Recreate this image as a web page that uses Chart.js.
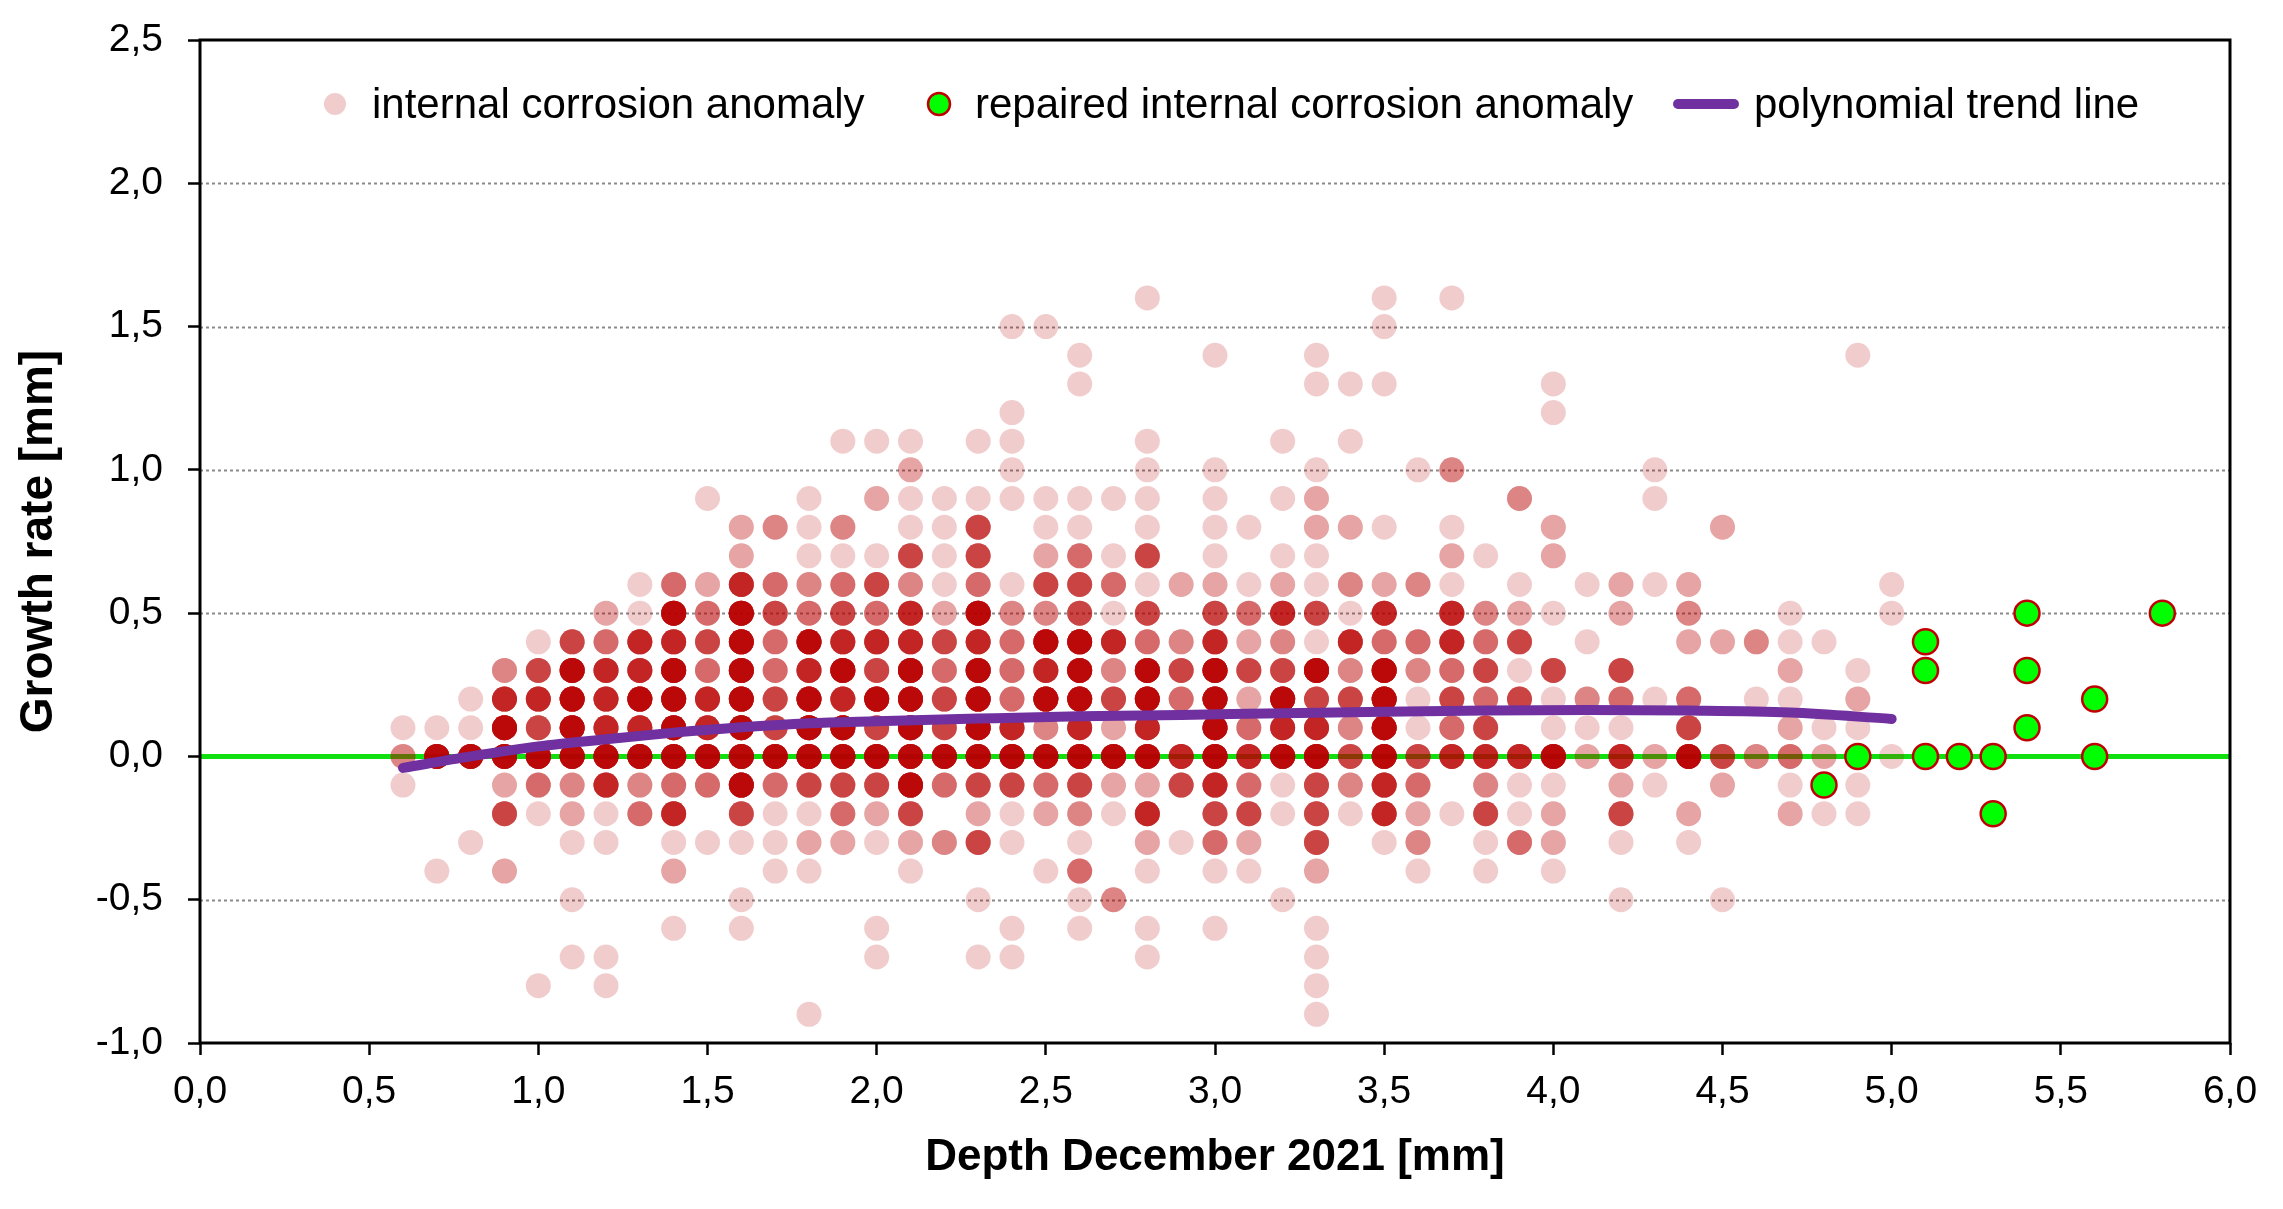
<!DOCTYPE html>
<html>
<head>
<meta charset="utf-8">
<script src="https://cdn.jsdelivr.net/npm/chart.js@4.4.1/dist/chart.umd.min.js"></script>
<style>
  html, body { margin: 0; padding: 0; background: #fff; }
  #wrap { width: 2283px; height: 1209px; position: relative; }
</style>
</head>
<body>
<div id="wrap"><canvas id="chart"></canvas></div>
<script>
// Depth columns (mm) of the internal corrosion anomalies
const depthColumns = [0.6, 0.7, 0.8, 0.9, 1.0, 1.1, 1.2, 1.3, 1.4, 1.5, 1.6, 1.7, 1.8, 1.9, 2.0,
  2.1, 2.2, 2.3, 2.4, 2.5, 2.6, 2.7, 2.8, 2.9, 3.0, 3.1, 3.2, 3.3, 3.4, 3.5, 3.6, 3.7, 3.8, 3.9,
  4.0, 4.1, 4.2, 4.3, 4.4, 4.5, 4.6, 4.7, 4.8, 4.9, 5.0]

// For every depth column: [growth rate, number of anomalies on that spot]
const growthCounts = [
  [[0.1,1],[0,3],[-0.1,1]],
  [[0.1,1],[0,16],[-0.4,1]],
  [[0.2,1],[0.1,1],[0,16],[-0.3,1]],
  [[0.3,3],[0.2,9],[0.1,16],[0,16],[-0.1,2],[-0.2,6],[-0.4,2]],
  [[0.4,1],[0.3,6],[0.2,9],[0.1,6],[0,16],[-0.1,4],[-0.2,1],[-0.8,1]],
  [[0.4,6],[0.3,16],[0.2,16],[0.1,16],[0,16],[-0.1,3],[-0.2,2],[-0.3,1],[-0.5,1],[-0.7,1]],
  [[0.5,2],[0.4,4],[0.3,9],[0.2,9],[0.1,9],[0,16],[-0.1,9],[-0.2,1],[-0.3,1],[-0.7,1],[-0.8,1]],
  [[0.6,1],[0.5,1],[0.4,9],[0.3,9],[0.2,16],[0.1,9],[0,16],[-0.1,3],[-0.2,4]],
  [[0.6,4],[0.5,16],[0.4,9],[0.3,16],[0.2,16],[0.1,16],[0,16],[-0.1,4],[-0.2,9],[-0.3,1],[-0.4,2],[-0.6,1]],
  [[0.9,1],[0.6,2],[0.5,4],[0.4,6],[0.3,4],[0.2,9],[0.1,9],[0,16],[-0.1,4],[-0.3,1]],
  [[0.8,2],[0.7,2],[0.6,9],[0.5,16],[0.4,16],[0.3,16],[0.2,16],[0.1,16],[0,16],[-0.1,16],[-0.2,6],[-0.3,1],[-0.5,1],[-0.6,1]],
  [[0.8,3],[0.6,4],[0.5,6],[0.4,4],[0.3,4],[0.2,6],[0.1,6],[0,16],[-0.1,4],[-0.2,1],[-0.3,1],[-0.4,1]],
  [[0.9,1],[0.8,1],[0.7,1],[0.6,3],[0.5,4],[0.4,16],[0.3,9],[0.2,16],[0.1,16],[0,16],[-0.1,6],[-0.2,1],[-0.3,2],[-0.4,1],[-0.9,1]],
  [[1.1,1],[0.8,3],[0.7,1],[0.6,4],[0.5,6],[0.4,9],[0.3,16],[0.2,9],[0.1,16],[0,16],[-0.1,6],[-0.2,4],[-0.3,2]],
  [[1.1,1],[0.9,2],[0.7,1],[0.6,6],[0.5,4],[0.4,9],[0.3,6],[0.2,16],[0.1,6],[0,16],[-0.1,6],[-0.2,2],[-0.3,1],[-0.6,1],[-0.7,1]],
  [[1.1,1],[1.0,2],[0.9,1],[0.8,1],[0.7,6],[0.6,3],[0.5,9],[0.4,9],[0.3,16],[0.2,16],[0.1,16],[0,16],[-0.1,16],[-0.2,6],[-0.3,2],[-0.4,1]],
  [[0.9,1],[0.8,1],[0.7,1],[0.6,1],[0.5,2],[0.4,6],[0.3,4],[0.2,6],[0.1,6],[0,16],[-0.1,4],[-0.3,3]],
  [[1.1,1],[0.9,1],[0.8,6],[0.7,6],[0.6,4],[0.5,16],[0.4,9],[0.3,16],[0.2,16],[0.1,16],[0,16],[-0.1,6],[-0.2,2],[-0.3,6],[-0.5,1],[-0.7,1]],
  [[1.5,1],[1.2,1],[1.1,1],[1.0,1],[0.9,1],[0.6,1],[0.5,3],[0.4,4],[0.3,4],[0.2,4],[0.1,9],[0,16],[-0.1,6],[-0.2,1],[-0.3,1],[-0.6,1],[-0.7,1]],
  [[1.5,1],[0.9,1],[0.8,1],[0.7,2],[0.6,6],[0.5,3],[0.4,16],[0.3,9],[0.2,16],[0.1,3],[0,16],[-0.1,4],[-0.2,2],[-0.4,1]],
  [[1.4,1],[1.3,1],[0.9,1],[0.8,1],[0.7,4],[0.6,6],[0.5,6],[0.4,16],[0.3,16],[0.2,16],[0.1,9],[0,16],[-0.1,6],[-0.2,3],[-0.3,1],[-0.4,4],[-0.5,1],[-0.6,1]],
  [[0.9,1],[0.7,1],[0.6,4],[0.5,1],[0.4,9],[0.3,3],[0.2,6],[0.1,2],[0,16],[-0.1,2],[-0.2,1],[-0.5,3]],
  [[1.6,1],[1.1,1],[1.0,1],[0.9,1],[0.8,1],[0.7,6],[0.6,1],[0.5,6],[0.4,4],[0.3,16],[0.2,16],[0.1,9],[0,16],[-0.1,2],[-0.2,9],[-0.3,2],[-0.4,1],[-0.6,1],[-0.7,1]],
  [[0.6,2],[0.4,3],[0.3,6],[0.2,4],[0,9],[-0.1,6],[-0.3,1]],
  [[1.4,1],[1.0,1],[0.9,1],[0.8,1],[0.7,1],[0.6,2],[0.5,6],[0.4,9],[0.3,16],[0.2,16],[0.1,16],[0,16],[-0.1,9],[-0.2,6],[-0.3,4],[-0.4,1],[-0.6,1]],
  [[0.8,1],[0.6,1],[0.5,4],[0.4,2],[0.3,6],[0.2,2],[0.1,4],[0,9],[-0.1,4],[-0.2,6],[-0.3,2],[-0.4,1]],
  [[1.1,1],[0.9,1],[0.7,1],[0.6,2],[0.5,9],[0.4,3],[0.3,6],[0.2,16],[0.1,9],[0,16],[-0.1,1],[-0.2,1],[-0.5,1]],
  [[1.4,1],[1.3,1],[1.0,1],[0.9,2],[0.8,2],[0.7,1],[0.6,1],[0.5,6],[0.4,1],[0.3,16],[0.2,6],[0.1,9],[0,16],[-0.1,6],[-0.2,6],[-0.3,6],[-0.4,2],[-0.6,1],[-0.7,1],[-0.8,1],[-0.9,1]],
  [[1.3,1],[1.1,1],[0.8,2],[0.6,3],[0.5,1],[0.4,9],[0.3,3],[0.2,6],[0.1,3],[0,6],[-0.1,3],[-0.2,1]],
  [[1.6,1],[1.5,1],[1.3,1],[0.8,1],[0.6,2],[0.5,9],[0.4,4],[0.3,16],[0.2,16],[0.1,16],[0,16],[-0.1,9],[-0.2,9],[-0.3,1]],
  [[1.0,1],[0.6,3],[0.4,4],[0.3,3],[0.2,1],[0.1,1],[0,6],[-0.1,4],[-0.2,2],[-0.3,3],[-0.4,1]],
  [[1.6,1],[1.0,3],[0.8,1],[0.7,2],[0.6,1],[0.5,9],[0.4,9],[0.3,4],[0.2,6],[0.1,4],[0,9],[-0.2,1]],
  [[0.7,1],[0.5,3],[0.4,4],[0.3,6],[0.2,4],[0.1,6],[0,9],[-0.1,3],[-0.2,6],[-0.3,1],[-0.4,1]],
  [[0.9,3],[0.6,1],[0.5,2],[0.4,6],[0.3,1],[0.2,6],[0,9],[-0.1,1],[-0.2,1],[-0.3,4]],
  [[1.3,1],[1.2,1],[0.8,2],[0.7,2],[0.5,1],[0.3,6],[0.2,1],[0.1,1],[0,16],[-0.1,1],[-0.2,2],[-0.3,2],[-0.4,1]],
  [[0.6,1],[0.4,1],[0.2,3],[0.1,1],[0,2]],
  [[0.6,2],[0.5,2],[0.3,6],[0.2,4],[0.1,1],[0,9],[-0.1,2],[-0.2,6],[-0.3,1],[-0.5,1]],
  [[1.0,1],[0.9,1],[0.6,1],[0.2,1],[0,2],[-0.1,1]],
  [[0.6,2],[0.5,3],[0.4,2],[0.2,4],[0.1,6],[0,16],[-0.2,2],[-0.3,1]],
  [[0.8,2],[0.4,2],[0,6],[-0.1,2],[-0.5,1]],
  [[0.4,3],[0.2,1],[0,3]],
  [[0.5,1],[0.4,1],[0.3,2],[0.2,1],[0.1,2],[0,4],[-0.1,1],[-0.2,2]],
  [[0.4,1],[0.1,1],[0,2],[-0.2,1]],
  [[1.4,1],[0.3,1],[0.2,2],[0.1,1],[-0.1,1],[-0.2,1]],
  [[0.6,1],[0.5,1],[0,1]]
]

// Repaired anomalies
const repairedDepth = [4.8, 4.9, 5.1, 5.1, 5.1, 5.2, 5.3, 5.3, 5.4, 5.4, 5.4, 5.6, 5.6, 5.8]
const repairedGrowth = [-0.1, 0.0, 0.4, 0.3, 0.0, 0.0, 0.0, -0.2, 0.5, 0.3, 0.1, 0.2, 0.0, 0.5]

// Polynomial trend line
const trendDepth = [0.6, 0.8, 1.0, 1.2, 1.4, 1.6, 1.8, 2.0, 2.3, 2.6, 2.9, 3.2, 3.5, 3.8, 4.1, 4.4, 4.7, 5.0]
const trendGrowth = [-0.04, 0.0, 0.035, 0.06, 0.083, 0.102, 0.116, 0.123, 0.132, 0.14, 0.145, 0.151, 0.156, 0.16, 0.162, 0.16, 0.153, 0.131]

// Zero reference line
const zeroLineDepth = [0.0, 6.0]
const zeroLineGrowth = [0.0, 0.0]

const legendLabels = ['internal corrosion anomaly', 'repaired internal corrosion anomaly', 'polynomial trend line']

const FONT = "'Liberation Sans', Arial, Helvetica, sans-serif"
const fmt = v => v.toFixed(1).replace('.', ',')

// each anomaly is its own point, overlapping ones darken the spot
const anomalyPoints = []
depthColumns.forEach((d, i) => {
  growthCounts[i].forEach(([g, n]) => {
    for (let k = 0; k < n; k++) anomalyPoints.push({ x: d, y: g })
  })
})
const repairedPoints = repairedDepth.map((d, i) => ({ x: d, y: repairedGrowth[i] }))
const trendPoints = trendDepth.map((d, i) => ({ x: d, y: trendGrowth[i] }))
const zeroPoints = zeroLineDepth.map((d, i) => ({ x: d, y: zeroLineGrowth[i] }))

// dotted grid, frame box and the legend inside the plot
const decorPlugin = {
  id: 'decor',
  beforeDatasetsDraw(chart) {
    const { ctx, chartArea: a, scales: { y } } = chart
    ctx.save()
    ctx.strokeStyle = '#8a8a8a'
    ctx.lineWidth = 2
    ctx.setLineDash([3, 3])
    y.ticks.forEach(t => {
      if (t.value === 0 || t.value === y.min || t.value === y.max) return
      const py = Math.round(y.getPixelForValue(t.value)) + 0.5
      ctx.beginPath()
      ctx.moveTo(a.left, py)
      ctx.lineTo(a.right, py)
      ctx.stroke()
    })
    ctx.restore()
  },
  afterDatasetsDraw(chart) {
    const { ctx, chartArea: a, data } = chart
    ctx.save()
    ctx.strokeStyle = '#000'
    ctx.lineWidth = 3
    ctx.strokeRect(a.left, a.top, a.right - a.left, a.bottom - a.top)

    const ly = a.top + 64
    ctx.font = '42px ' + FONT
    ctx.textBaseline = 'middle'
    ctx.textAlign = 'left'

    const ds0 = data.datasets[0]
    ctx.beginPath()
    ctx.arc(a.left + 135, ly, 11, 0, Math.PI * 2)
    ctx.fillStyle = ds0.backgroundColor
    ctx.fill()
    ctx.fillStyle = '#000'
    ctx.fillText(legendLabels[0], a.left + 172, ly + 2)

    const ds1 = data.datasets[1]
    ctx.beginPath()
    ctx.arc(a.left + 739, ly, 11, 0, Math.PI * 2)
    ctx.fillStyle = ds1.backgroundColor
    ctx.fill()
    ctx.lineWidth = 2.5
    ctx.strokeStyle = ds1.borderColor
    ctx.stroke()
    ctx.fillStyle = '#000'
    ctx.fillText(legendLabels[1], a.left + 775, ly + 2)

    const ds2 = data.datasets[2]
    ctx.beginPath()
    ctx.lineCap = 'round'
    ctx.lineWidth = 10
    ctx.strokeStyle = ds2.borderColor
    ctx.moveTo(a.left + 1478, ly)
    ctx.lineTo(a.left + 1534, ly)
    ctx.stroke()
    ctx.fillText(legendLabels[2], a.left + 1554, ly + 2)
    ctx.restore()
  }
}

new Chart(document.getElementById('chart'), {
  type: 'scatter',
  data: {
    datasets: [
      {
        label: legendLabels[0],
        data: anomalyPoints,
        backgroundColor: 'rgba(185,0,0,0.2)',
        borderWidth: 0,
        pointRadius: 12.5,
        order: 2
      },
      {
        label: legendLabels[1],
        data: repairedPoints,
        backgroundColor: '#00ff00',
        borderColor: '#c00000',
        borderWidth: 2.5,
        pointRadius: 12.5,
        order: 1
      },
      {
        label: legendLabels[2],
        data: trendPoints,
        showLine: true,
        borderColor: '#7030a0',
        borderWidth: 10,
        borderCapStyle: 'round',
        cubicInterpolationMode: 'monotone',
        pointRadius: 0,
        order: 0
      },
      {
        label: 'zero',
        data: zeroPoints,
        showLine: true,
        borderColor: '#10e010',
        borderWidth: 5,
        pointRadius: 0,
        order: 3
      }
    ]
  },
  options: {
    responsive: true,
    maintainAspectRatio: false,
    devicePixelRatio: 1,
    animation: false,
    events: [],
    layout: { padding: { top: 40, right: 53, left: 0, bottom: 0 } },
    plugins: {
      legend: { display: false },
      tooltip: { enabled: false }
    },
    scales: {
      x: {
        type: 'linear',
        min: 0,
        max: 6,
        afterFit: s => { s.height = 166; s.paddingLeft = 0; s.paddingRight = 0 },
        ticks: {
          stepSize: 0.5,
          padding: 14,
          color: '#000',
          font: { family: FONT, size: 39 },
          callback: v => fmt(v)
        },
        grid: { drawOnChartArea: false, tickLength: 12, tickColor: '#000', tickWidth: 2.5 },
        border: { display: false },
        title: {
          display: true,
          text: 'Depth December 2021 [mm]',
          color: '#000',
          font: { family: FONT, size: 44, weight: 'bold' },
          padding: { top: 0, bottom: 25 }
        }
      },
      y: {
        min: -1,
        max: 2.5,
        afterFit: s => { s.width = 200; s.paddingTop = 0; s.paddingBottom = 0 },
        ticks: {
          stepSize: 0.5,
          padding: 25,
          color: '#000',
          font: { family: FONT, size: 39 },
          callback: v => fmt(v)
        },
        grid: { drawOnChartArea: false, tickLength: 12, tickColor: '#000', tickWidth: 2.5 },
        border: { display: false },
        title: {
          display: true,
          text: 'Growth rate [mm]',
          color: '#000',
          font: { family: FONT, size: 46, weight: 'bold' },
          padding: { top: 12, bottom: 0 }
        }
      }
    }
  },
  plugins: [decorPlugin]
})
</script>
</body>
</html>
